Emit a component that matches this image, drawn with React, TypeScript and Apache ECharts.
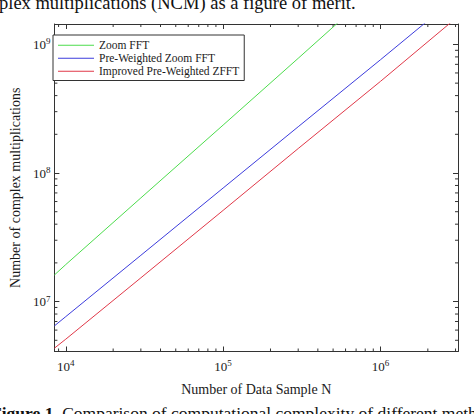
import React, { useEffect, useRef } from 'react';
import * as echarts from 'echarts';

// Number of data samples N (x positions)
const N_SAMPLES = [8466, 1e4, 3e4, 1e5, 3e5, 1e6, 3.11e6];
// Number of complex multiplications for each method
const ZOOM_FFT = [1.61e7, 1.94e7, 6.4e7, 2.36e8, 7.8e8, 2.92e9, null];
const PRE_WEIGHTED_ZOOM_FFT = [6.47e6, 7.64e6, 2.29e7, 7.64e7, 2.29e8, 7.6e8, 2.39e9];
const IMPROVED_PRE_WEIGHTED_ZFFT = [4.34e6, 5.1e6, 1.53e7, 5.12e7, 1.55e8, 5.16e8, 1.65e9];

const SERIES_NAMES = ['Zoom FFT', 'Pre-Weighted Zoom FFT', 'Improved Pre-Weighted ZFFT'];
const SERIES_COLORS = ['#4cdc4c', '#3c3cdc', '#e03848'];

const X_MIN = 8466;
const X_MAX = 3.11e6;
const Y_MIN = 4.09e6;
const Y_MAX = 1.442e9;

const X_MINOR_TICKS = [
  9e3,
  2e4, 3e4, 4e4, 5e4, 6e4, 7e4, 8e4, 9e4,
  2e5, 3e5, 4e5, 5e5, 6e5, 7e5, 8e5, 9e5,
  2e6, 3e6,
];
const Y_MINOR_TICKS = [
  5e6, 6e6, 7e6, 8e6, 9e6,
  2e7, 3e7, 4e7, 5e7, 6e7, 7e7, 8e7, 9e7,
  2e8, 3e8, 4e8, 5e8, 6e8, 7e8, 8e8, 9e8,
];

const X_NAME = 'Number of Data Sample N';
const Y_NAME = 'Number of complex multiplications';
const TOP_TEXT = 'plex multiplications (NCM) as a figure of merit.';
const CAPTION_BOLD = 'Figure 1.';
const CAPTION_TEXT = ' Comparison of computational complexity of different methods';

const FONT = 'Liberation Serif';
const AXIS_COLOR = '#333';
const TEXT_COLOR = '#1a1a1a';

function pairs(values: (number | null)[]) {
  const out: number[][] = [];
  N_SAMPLES.forEach((n, i) => {
    const v = values[i];
    if (v != null) out.push([n, v]);
  });
  return out;
}

function powLabel(v: number) {
  const l = Math.log10(v);
  const e = Math.round(l);
  if (Math.abs(l - e) > 1e-6) return '';
  return `{b|10}{s|${e}}`;
}

const labelRich = {
  b: { fontFamily: FONT, fontSize: 13, lineHeight: 15, color: TEXT_COLOR },
  s: { fontFamily: FONT, fontSize: 9, lineHeight: 5, verticalAlign: 'top', color: TEXT_COLOR },
};

export default function App() {
  const ref = useRef<HTMLDivElement>(null);
  useEffect(() => {
    if (!ref.current) return;
    const chart = echarts.init(ref.current, undefined, { renderer: 'svg' });
    const baseAxis = {
      type: 'log' as const,
      logBase: 10,
      axisLine: { show: true, onZero: false, lineStyle: { color: AXIS_COLOR, width: 1 } },
      axisTick: { show: true, inside: true, length: 5, lineStyle: { color: AXIS_COLOR, width: 1 } },
      splitLine: { show: false },
      minorTick: { show: false },
    };
    const lineStyle = (c: string) => ({ color: c, width: 1 });
    const tickStyle = { stroke: AXIS_COLOR, lineWidth: 1 };
    chart.setOption({
      animation: false,
      backgroundColor: '#fff',
      grid: { left: 44, top: 24, right: 16, bottom: 62.5, containLabel: false },
      xAxis: [
        {
          ...baseAxis,
          position: 'bottom',
          min: X_MIN,
          max: X_MAX,
          name: X_NAME,
          nameLocation: 'middle',
          nameGap: 31,
          nameTextStyle: { fontFamily: FONT, fontSize: 14, color: TEXT_COLOR },
          axisLabel: { show: true, margin: 7, formatter: powLabel, rich: labelRich, showMinLabel: false, showMaxLabel: false },
        },
        {
          ...baseAxis,
          position: 'top',
          min: X_MIN,
          max: X_MAX,
          axisLabel: { show: false },
        },
      ],
      yAxis: [
        {
          ...baseAxis,
          position: 'left',
          min: Y_MIN,
          max: Y_MAX,
          name: Y_NAME,
          nameLocation: 'middle',
          nameGap: 27,
          nameTextStyle: { fontFamily: FONT, fontSize: 14, color: TEXT_COLOR },
          axisLabel: { show: true, margin: 4, formatter: powLabel, rich: labelRich, showMinLabel: false, showMaxLabel: false },
        },
        {
          ...baseAxis,
          position: 'right',
          min: Y_MIN,
          max: Y_MAX,
          axisLabel: { show: false },
        },
      ],
      legend: {
        left: 53,
        top: 35,
        orient: 'vertical',
        data: SERIES_NAMES,
        icon: 'rect',
        itemWidth: 36,
        itemHeight: 1,
        itemGap: 0.5,
        padding: [4, 5, 3, 5],
        backgroundColor: '#fff',
        borderColor: AXIS_COLOR,
        borderWidth: 1,
        borderRadius: 0,
        textStyle: { fontFamily: FONT, fontSize: 11.5, lineHeight: 12.5, color: TEXT_COLOR },
      },
      series: [
        { name: SERIES_NAMES[0], type: 'line', data: pairs(ZOOM_FFT), symbol: 'none', showSymbol: false, color: SERIES_COLORS[0], lineStyle: lineStyle(SERIES_COLORS[0]), clip: true },
        { name: SERIES_NAMES[1], type: 'line', data: pairs(PRE_WEIGHTED_ZOOM_FFT), symbol: 'none', showSymbol: false, color: SERIES_COLORS[1], lineStyle: lineStyle(SERIES_COLORS[1]), clip: true },
        { name: SERIES_NAMES[2], type: 'line', data: pairs(IMPROVED_PRE_WEIGHTED_ZFFT), symbol: 'none', showSymbol: false, color: SERIES_COLORS[2], lineStyle: lineStyle(SERIES_COLORS[2]), clip: true },
        {
          type: 'custom',
          silent: true,
          clip: false,
          data: X_MINOR_TICKS.map((v) => [v, Y_MIN]),
          renderItem: (_p: any, api: any) => {
            const v = api.value(0);
            const b = api.coord([v, Y_MIN]);
            const t = api.coord([v, Y_MAX]);
            return {
              type: 'group',
              children: [
                { type: 'line', shape: { x1: b[0], y1: b[1], x2: b[0], y2: b[1] - 3 }, style: tickStyle },
                { type: 'line', shape: { x1: t[0], y1: t[1], x2: t[0], y2: t[1] + 3 }, style: tickStyle },
              ],
            };
          },
        },
        {
          type: 'custom',
          silent: true,
          clip: false,
          data: Y_MINOR_TICKS.map((v) => [X_MIN, v]),
          renderItem: (_p: any, api: any) => {
            const v = api.value(1);
            const l = api.coord([X_MIN, v]);
            const r = api.coord([X_MAX, v]);
            return {
              type: 'group',
              children: [
                { type: 'line', shape: { x1: l[0], y1: l[1], x2: l[0] + 3, y2: l[1] }, style: tickStyle },
                { type: 'line', shape: { x1: r[0], y1: r[1], x2: r[0] - 3, y2: r[1] }, style: tickStyle },
              ],
            };
          },
        },
      ],
      graphic: [
        {
          type: 'text',
          x: -1,
          y: 2.5,
          style: {
            text: TOP_TEXT,
            fontFamily: FONT,
            fontSize: 18.5,
            fill: '#111',
            textVerticalAlign: 'middle',
            textAlign: 'left',
          },
        },
        {
          type: 'text',
          x: -9,
          y: 412.5,
          style: {
            text: `{bb|${CAPTION_BOLD}}${CAPTION_TEXT}`,
            fontFamily: FONT,
            fontSize: 17.5,
            fill: '#111',
            textVerticalAlign: 'middle',
            textAlign: 'left',
            rich: {
              bb: { fontFamily: FONT, fontSize: 17.5, fontWeight: 'bold', fill: '#111' },
            },
          },
        },
      ],
    });
    return () => chart.dispose();
  }, []);
  return (
    <div
      ref={ref}
      style={{ position: 'absolute', left: 0, top: 0, width: 474, height: 414, background: '#fff', overflow: 'hidden' }}
    />
  );
}
